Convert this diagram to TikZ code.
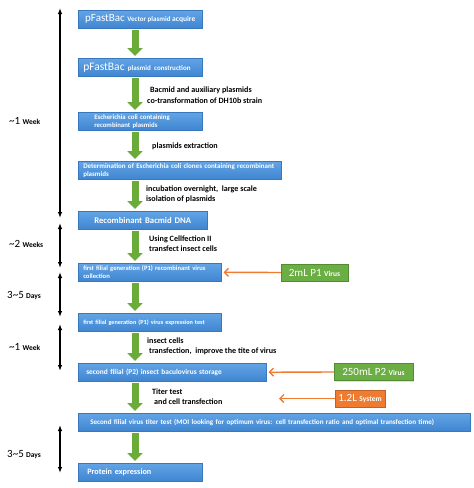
\documentclass[tikz,border=0pt]{standalone}
\usepackage{fontspec}
\setmainfont{Carlito}
\usetikzlibrary{arrows.meta,positioning,shadows}
\definecolor{BoxTop}{HTML}{62A4E6}
\definecolor{BoxBot}{HTML}{3F85D0}
\definecolor{BoxEdge}{HTML}{3A78BE}
\definecolor{StepGreen}{HTML}{6AAB3A}
\definecolor{VolGreen}{HTML}{6BAE44}
\definecolor{VolOrange}{HTML}{EE7B30}
\newcommand{\fsz}[1]{\fontsize{#1}{#1}\selectfont}

\begin{document}
\begin{tikzpicture}[x=1pt,y=-1pt,>=Latex,
    stepbox/.style={draw=BoxEdge,line width=0.5pt,top color=BoxTop,bottom color=BoxBot,
      text=white,font=\bfseries,anchor=north west,minimum height=18pt,
      inner xsep=5pt,inner ysep=1pt,align=left,
      drop shadow={opacity=0.25,shadow xshift=1pt,shadow yshift=-1pt}},
    volbox/.style={draw=#1!80!black,line width=0.4pt,fill=#1,text=white,
      minimum height=17pt,inner xsep=3pt,inner ysep=1pt,
      drop shadow={opacity=0.25,shadow xshift=1pt,shadow yshift=-1pt}},
    garrow/.style={draw=StepGreen,line width=7pt,-{Triangle[width=15pt,length=8pt]},
      shorten >=2pt,shorten <=1pt},
    oarrow/.style={draw=VolOrange,line width=1.4pt,-{Straight Barb[width=8pt,length=4pt]},
      shorten >=2pt},
    span/.style={draw=black,line width=1.2pt,{Latex[length=6pt,width=4.5pt]}-{Latex[length=6pt,width=4.5pt]}},
    note/.style={anchor=west,align=left,font=\bfseries\fsz{8.1},text=black,inner sep=0pt},
    period/.style={anchor=west,inner sep=0pt,text=black}]
  \useasboundingbox (0,0) rectangle (474,488);

  % main steps
  \node[stepbox,minimum width=124pt,inner xsep=1pt] (b1) at (78,10)
    {\mdseries\fsz{11}pFastBac\ \bfseries\fsz{7}Vector plasmid \fsz{7.5}acquire};
  \node[stepbox,text width=114pt] (b2) at (78,58)
    {\mdseries\fsz{11.5}pFastBac\ \bfseries\fsz{7}plasmid construction};
  \node[stepbox,text width=114pt,font=\bfseries\fsz{6.8}] (b3) at (78,112)
    {\hspace*{11pt}Escherichia coli containing\\[1.2pt]\hspace*{11pt}recombinant plasmids};
  \node[stepbox,text width=193pt,font=\bfseries\fsz{7}] (b4) at (78,161)
    {Determination of Escherichia coli clones containing recombinant\\[1.2pt]plasmids};
  \node[stepbox,text width=119pt,align=center,font=\bfseries\fsz{8.7}] (b5) at (78,211)
    {Recombinant Bacmid DNA};
  \node[stepbox,text width=133pt,font=\bfseries\fsz{6.6}] (b6) at (78,263)
    {first filial generation (P1) recombinant virus\\[1.2pt]collection};
  \node[stepbox,text width=133pt,font=\bfseries\fsz{6.2}] (b7) at (78,313)
    {first filial generation (P1) virus expression test};
  \node[stepbox,text width=178pt,font=\bfseries\fsz{7.4}] (b8) at (78,363)
    {\hspace*{3pt}second filial (P2) insect baculovirus storage};
  \node[stepbox,text width=382pt,font=\bfseries\fsz{7.1}] (b9) at (78,413)
    {\hspace*{7pt}Second filial virus titer test (MOI looking for optimum virus: cell transfection ratio and optimal transfection time)};
  \node[stepbox,text width=114pt,font=\bfseries\fsz{8.2}] (b10) at (78,463)
    {\hspace*{4pt}Protein expression};

  % green step arrows
  \coordinate (ax) at (135,0);
  \foreach \a/\b in {b1/b2,b2/b3,b3/b4,b4/b5,b5/b6,b6/b7,b7/b8,b8/b9,b9/b10}
    \draw[garrow] (\a.south -| ax) -- (\b.north -| ax);

  % notes beside the arrows
  \node[note] (n1) at (147,95) {\hspace*{3pt}Bacmid and auxiliary plasmids\\[3.5pt]co-transformation of DH10b strain};
  \node[note] (n2) at (152,146) {plasmids extraction};
  \node[note] (n3) at (146,194) {incubation overnight,\ \ large scale\\[2pt]isolation of plasmids};
  \node[note] (n4) at (149,244) {Using Cellfection II\\[2pt]transfect insect cells};
  \node[note] (n5) at (147,346) {insect cells\\[2pt]\hspace*{2pt}transfection,\ \ improve the tite of virus};
  \node[note] (n6) at (152,397) {Titer test\\[2pt]\hspace*{2pt}and cell transfection};

  % virus volumes
  \node[volbox=VolGreen,minimum width=67pt] (g1) at (314.5,272.5)
    {\fsz{11}2mL P1 \bfseries\fsz{7.5}Virus};
  \node[volbox=VolGreen,minimum width=79pt] (g2) at (373.5,372)
    {\fsz{11}250mL P2 \bfseries\fsz{7.5}Virus};
  \node[volbox=VolOrange,minimum width=50pt,inner xsep=1pt] (o1) at (360,398.5)
    {\fsz{11}1.2L \bfseries\fsz{7.5}System};
  \coordinate (o1end) at (277,398.5);

  \draw[oarrow] (g1.west) -- (b6.east);
  \draw[oarrow] (g2.west) -- (b8.east);
  \draw[oarrow] (o1.west) -- (o1end);

  % time spans
  \coordinate (t1a) at (60,8);    \coordinate (t1b) at (60,218);
  \coordinate (t2a) at (60,223);  \coordinate (t2b) at (60,268);
  \coordinate (t3a) at (60,272);  \coordinate (t3b) at (60,317);
  \coordinate (t4a) at (60,324);  \coordinate (t4b) at (60,371);
  \coordinate (t5a) at (60,425);  \coordinate (t5b) at (60,473);
  \foreach \s in {1,...,5}
    \draw[span] (t\s a) -- (t\s b);

  \node[period] (p1) at (9,121) {{\fsz{11}\textasciitilde 1}\ {\bfseries\fsz{7.5}Week}};
  \node[period] (p2) at (9,244) {{\fsz{11}\textasciitilde 2}\ {\bfseries\fsz{7.5}Weeks}};
  \node[period] (p3) at (7,296) {{\fsz{11}3\textasciitilde 5}\ {\bfseries\fsz{7.5}Days}};
  \node[period] (p4) at (9,347) {{\fsz{11}\textasciitilde 1}\ {\bfseries\fsz{7.5}Week}};
  \node[period] (p5) at (7,455) {{\fsz{11}3\textasciitilde 5}\ {\bfseries\fsz{7.5}Days}};
\end{tikzpicture}
\end{document}
